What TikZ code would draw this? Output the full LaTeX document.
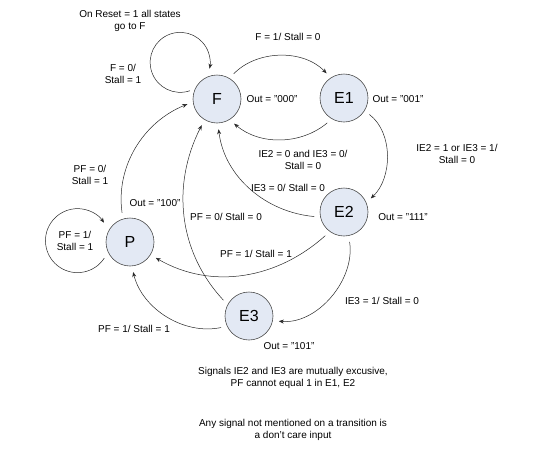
\documentclass[tikz,border=0pt]{standalone}
\usepackage{fontspec}
\setmainfont{Liberation Sans}
\usetikzlibrary{arrows.meta}
\definecolor{statefill}{RGB}{227,233,244}
\definecolor{edgecol}{RGB}{40,40,40}
\begin{document}
\begin{tikzpicture}[x=1pt,y=1pt,
  state/.style={circle, draw=black!70, fill=statefill, minimum size=48pt, inner sep=0pt,
                font=\fontsize{16}{18}\selectfont, line width=0.6pt},
  lbl/.style={font=\fontsize{10}{12}\selectfont, align=center, inner sep=0pt},
  tr/.style={draw=edgecol, -{Stealth[length=5pt,width=4pt]}, line width=0.5pt,
             shorten <=6pt, shorten >=6pt},
  loopy/.style={draw=edgecol, -{Stealth[length=5pt,width=4pt]}, line width=0.5pt}]
\useasboundingbox (0,0) rectangle (547,-451);

% states
\node[state] (F)  at (217,-99)  {F};
\node[state] (E1) at (344,-98)  {E1};
\node[state] (E2) at (344,-212) {E2};
\node[state] (P)  at (130,-242) {P};
\node[state] (E3) at (249,-316) {E3};

% outputs
\node[lbl] (oF)  at (272,-99)  {Out = "000"};
\node[lbl] (oE1) at (398,-99)  {Out = "001"};
\node[lbl] (oE2) at (403,-217) {Out = "111"};
\node[lbl] (oP)  at (155,-203) {Out = "100"};
\node[lbl] (oE3) at (289,-346) {Out = "101"};

% self loops
\draw[loopy] ([shift={(163:4pt)}]F.163) arc[start angle=-71, end angle=-372, radius=30pt];
\draw[loopy] ([shift={(212:6pt)}]P.212) arc[start angle=-33, end angle=-326, radius=32pt];

% transitions
\draw[tr] (F.59)   to[out=46,in=134]   (E1.123);
\draw[tr] (E1.-120) to[out=220,in=-40] (F.-59);
\draw[tr] (E1.-32) to[out=-37,in=43]   (E2.23);
\draw[tr] (E2.-168) to[out=175,in=-83] (F.-88);
\draw[tr] (P.107)  to[out=98,in=202]   (F.-173);
\draw[tr] (E2.-126) to[out=222,in=-30] (P.-32);
\draw[tr] (E2.-79) to[out=-81,in=-5]   (E3.-11);
\draw[tr] (E3.152) to[out=133,in=-117] (F.-121);
\draw[tr] (E3.-155) to[out=192,in=-76] (P.-86);

% transition labels
\node[lbl] (reset) at (130,-21)  {On Reset = 1 all states\\go to F};
\node[lbl] (lFF)   at (123,-74)  {F = 0/\\Stall = 1};
\node[lbl] (lFE1)  at (288,-37)  {F = 1/ Stall = 0};
\node[lbl] (lE1F)  at (303,-160) {IE2 = 0 and IE3 = 0/\\Stall = 0};
\node[lbl] (lE1E2) at (457,-154) {IE2 = 1 or IE3 = 1/\\Stall = 0};
\node[lbl] (lE2F)  at (288,-188) {IE3 = 0/ Stall = 0};
\node[lbl] (lPF)   at (90,-175)  {PF = 0/\\Stall = 1};
\node[lbl] (lE3F)  at (226,-217) {PF = 0/ Stall = 0};
\node[lbl] (lE2P)  at (256,-254) {PF = 1/ Stall = 1};
\node[lbl] (lPP)   at (75,-241)  {PF = 1/\\Stall = 1};
\node[lbl] (lE2E3) at (382,-301) {IE3 = 1/ Stall = 0};
\node[lbl] (lE3P)  at (134,-329) {PF = 1/ Stall = 1};

% notes
\node[lbl] (note1) at (293,-378) {Signals IE2 and IE3 are mutually excusive,\\PF cannot equal 1 in E1, E2};
\node[lbl] (note2) at (293,-430) {Any signal not mentioned on a transition is\\a don't care input};
\end{tikzpicture}
\end{document}
